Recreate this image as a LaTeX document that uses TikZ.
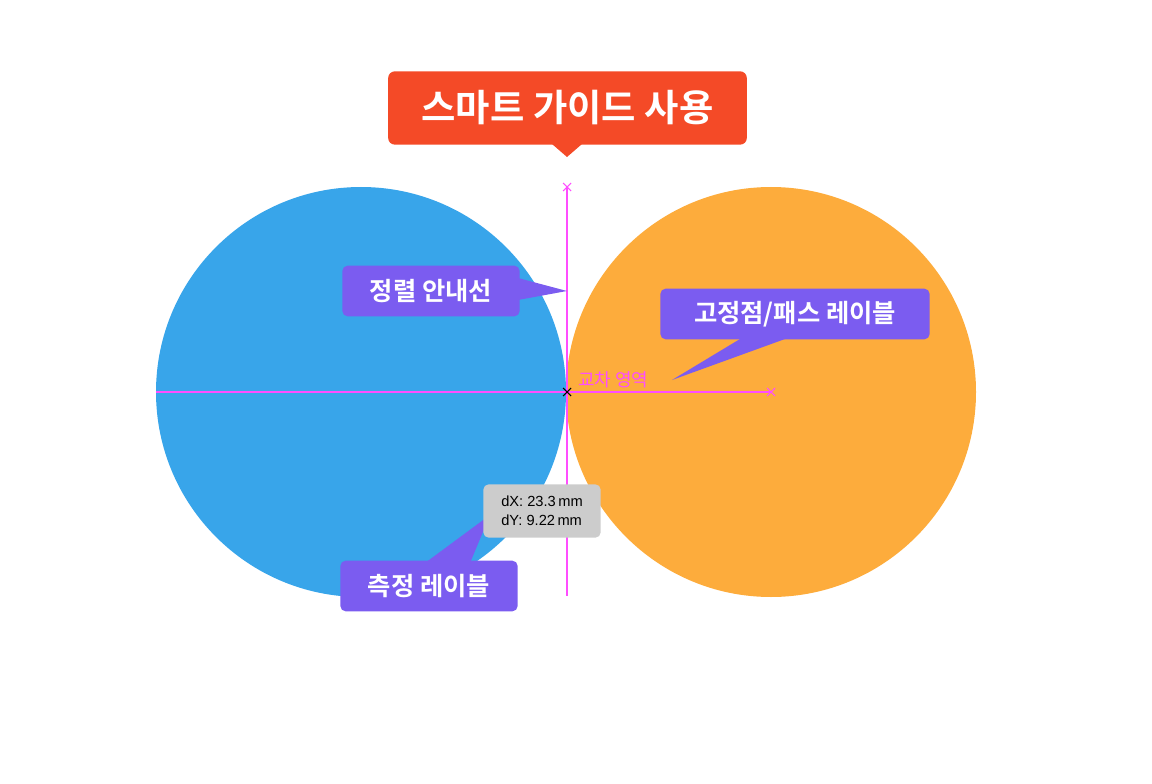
\documentclass[tikz,border=0pt]{standalone}
\usetikzlibrary{calc}
\usepackage{fontspec}
\setmainfont{Noto Sans CJK KR}
\newfontfamily\krb{Noto Sans CJK KR}[BoldFont={* Bold}]
\newfontfamily\lat{Liberation Sans}
\definecolor{cblue}{HTML}{38A5EA}
\definecolor{corange}{HTML}{FDAC3C}
\definecolor{cred}{HTML}{F44A27}
\definecolor{cpurp}{HTML}{7B5CF0}
\definecolor{cmag}{HTML}{FF4DFF}
\definecolor{cgray}{HTML}{CCCCCC}
\begin{document}
\begin{tikzpicture}[x=0.75pt,y=-0.75pt,
  lab/.style={fill=cpurp,rounded corners=4pt,text=white,font=\krb\bfseries\fontsize{19}{22}\selectfont,inner sep=0pt,minimum height=38pt},
  guide/.style={draw=cmag,line width=1.3pt},
  xm/.style={line width=0.8pt}]
\useasboundingbox (0,0) rectangle (1152,784);
\fill[corange] (771,392) circle (205);
\fill[cblue] (361,392) circle (205);
% guides
\coordinate (vt) at (567,187); \coordinate (vb) at (567,596);
\coordinate (hl) at (156,392); \coordinate (hr) at (771,392);
\coordinate (c) at (567,392);
\draw[guide] (vt) -- (vb);
\draw[guide] (hl) -- (hr);
\draw[cmag,xm] ($(vt)+(-4,-4)$) -- ($(vt)+(4,4)$) ($(vt)+(-4,4)$) -- ($(vt)+(4,-4)$);
\draw[cmag,xm] ($(hr)+(-4,-4)$) -- ($(hr)+(4,4)$) ($(hr)+(-4,4)$) -- ($(hr)+(4,-4)$);
\draw[black,xm] ($(c)+(-4,-4)$) -- ($(c)+(4,4)$) ($(c)+(-4,4)$) -- ($(c)+(4,-4)$);
\node[text=cmag,font=\fontsize{13.5}{15}\selectfont,anchor=base west,inner sep=0] (iz) at (578,386) {교차 영역};
% title
\node[fill=cred,rounded corners=5pt,text=white,font=\krb\bfseries\fontsize{28}{32}\selectfont,minimum width=269pt,minimum height=55pt,inner sep=0] (title) at (567.5,108) {스마트 가이드 사용};
\fill[cred] (552,144) -- (567,157) -- (582,144) -- cycle;
% labels
\node[lab,minimum width=133pt] (al) at (431,291) {정렬 안내선};
\fill[cpurp] (518,278) -- (567,291) -- (518,300) -- cycle;
\node[lab,minimum width=202pt] (fl) at (795,314) {고정점/패스 레이블};
\fill[cpurp] (740,339) -- (672,380) -- (785,339) -- cycle;
\node[lab,minimum width=133pt] (ml) at (429,586) {측정 레이블};
\fill[cpurp] (425,563) -- (490,515) -- (470,563) -- cycle;
\node[fill=cgray,rounded corners=4pt,font=\lat\fontsize{11}{14}\selectfont,align=left,minimum width=88pt,minimum height=40pt,inner sep=0] (dm) at (542,511) {dX: 23.3\,mm\\dY: 9.22\,mm};
\end{tikzpicture}
\end{document}
